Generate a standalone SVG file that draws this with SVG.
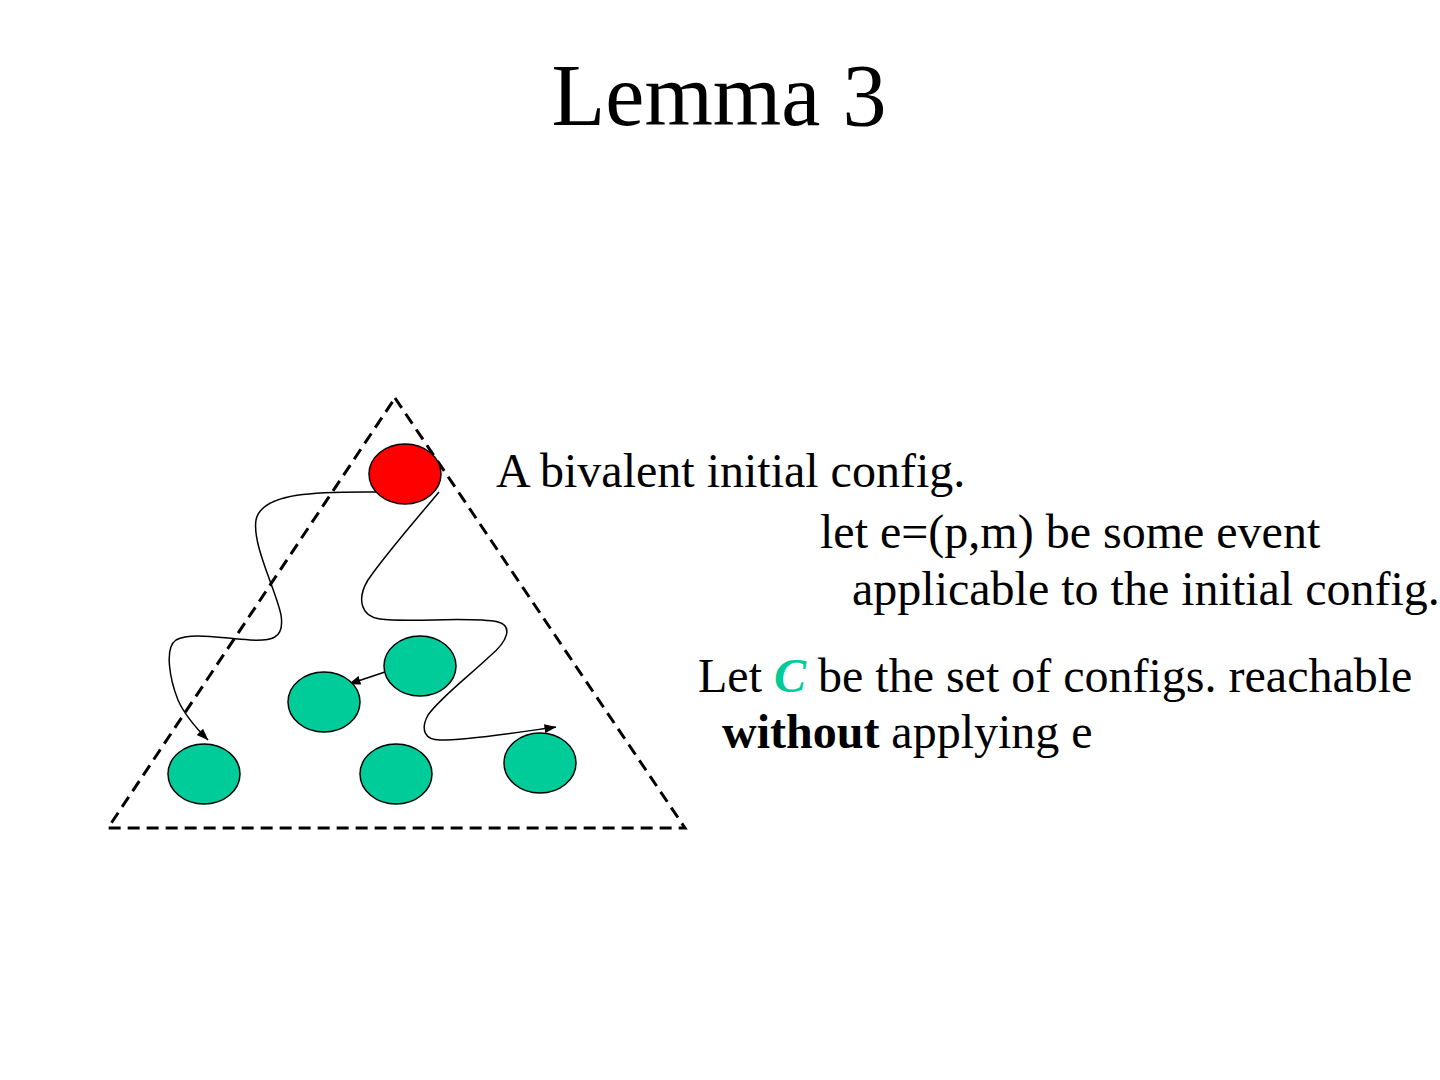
<svg xmlns="http://www.w3.org/2000/svg" width="1440" height="1080" viewBox="0 0 1440 1080">
<style>
  .t { font-family: "Liberation Serif", "Times New Roman", serif; fill: #000; }
  .body { font-size: 48px; }
  .node { stroke: #000; stroke-width: 1.5; }
  .green { fill: #00CC99; }
  .red { fill: #FF0000; }
  .conn { fill: none; stroke: #000; stroke-width: 1.5; marker-end: url(#arrow); }
  .tri { fill: none; stroke: #000; stroke-width: 3; stroke-dasharray: 12 7; }
</style>
<defs>
  <marker id="arrow" viewBox="0 0 12 10" refX="11.5" refY="5" markerWidth="12" markerHeight="10" markerUnits="userSpaceOnUse" orient="auto">
    <path d="M0,0.5 L12,5 L0,9.5 Z" fill="#000"/>
  </marker>
</defs>
<rect width="1440" height="1080" fill="#fff"/>
<text class="t" x="719" y="125" font-size="88" text-anchor="middle">Lemma 3</text>

<g id="region">
  <path class="tri" d="M395,398 L685,828 L108,828 Z"/>
</g>

<g id="connectors">
  <path class="conn" d="M376,492 C330,492 262,490 256,520 C252,545 276,590 281,615 C285,640 270,641 250,640 C220,638 190,632 176,640 C164,648 170,680 178,700 C185,716 196,728 208,740"/>
  <path class="conn" d="M439,492 C420,515 385,555 368,580 C357,598 360,616 380,619 C410,623 470,616 498,622 C513,626 508,641 490,656 C470,675 440,698 428,715 C420,730 425,740 440,740 C470,740 520,732 556,727"/>
  <path class="conn" d="M385,672 L349,684"/>
</g>

<g id="initial"><ellipse class="node red" cx="405" cy="474" rx="36" ry="30"/></g>
<g id="c1"><ellipse class="node green" cx="420" cy="666" rx="36" ry="30"/></g>
<g id="c2"><ellipse class="node green" cx="324" cy="702" rx="36" ry="30"/></g>
<g id="c3"><ellipse class="node green" cx="204" cy="774" rx="36" ry="30"/></g>
<g id="c4"><ellipse class="node green" cx="396" cy="774" rx="36" ry="30"/></g>
<g id="c5"><ellipse class="node green" cx="540" cy="763" rx="36" ry="30"/></g>

<g id="labels">
  <text class="t body" x="496" y="487">A bivalent initial config.</text>
  <text class="t body" x="820" y="548">let e=(p,m) be some event</text>
  <text class="t body" x="852" y="605">applicable to the initial config.</text>
  <text class="t body" x="698" y="692">Let <tspan font-weight="bold" font-style="italic" fill="#00CC99">C</tspan> be the set of configs. reachable</text>
  <text class="t body" x="722" y="748"><tspan font-weight="bold">without</tspan> applying e</text>
</g>
</svg>
